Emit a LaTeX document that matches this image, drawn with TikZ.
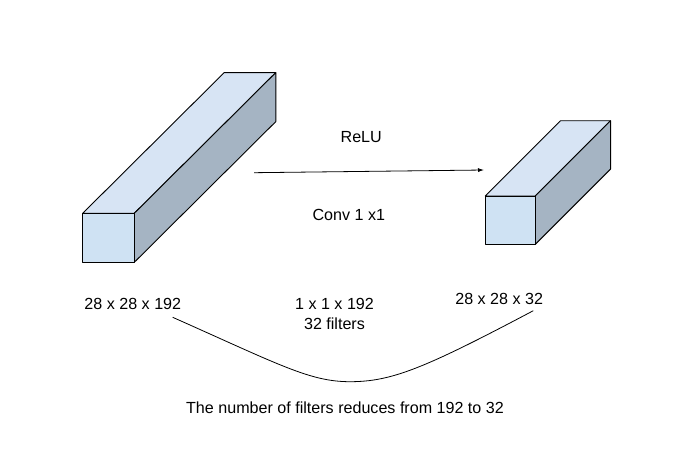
\documentclass[tikz,border=0pt]{standalone}
\usepackage{fontspec}
\setmainfont{Liberation Sans}
\usetikzlibrary{positioning,arrows.meta}
\definecolor{frontblue}{HTML}{CFE2F3}
\definecolor{topblue}{HTML}{D7E4F4}
\definecolor{sideblue}{HTML}{A5B4C3}
\begin{document}
\begin{tikzpicture}[
  x=1pt,y=-1pt,
  font=\fontsize{16.1}{19}\selectfont,
  face/.style={draw,line width=0.9pt,line join=round},
  frontface/.style={face,fill=frontblue},
  topface/.style={face,fill=topblue},
  sideface/.style={face,fill=sideblue},
  lbl/.style={anchor=base,inner sep=0pt},
  ar/.style={-{Latex[length=6pt,width=4pt]},line width=0.8pt},
  brace/.style={line width=0.8pt}
]
\useasboundingbox (0,0) rectangle (700,452);
% input volume
\coordinate (inA) at (82.7,213.3);
\coordinate (inB) at (134.3,213.3);
\coordinate (inC) at (134.3,262.3);
\draw[topface] (inA) -- ++(141.5,-140.7) -- ++(51.6,0) -- (inB) -- cycle;
\draw[sideface] (inB) -- ++(141.5,-140.7) -- ++(0,49) -- (inC) -- cycle;
\draw[frontface] (inA) rectangle (inC);
% output volume
\coordinate (outA) at (485.3,196);
\coordinate (outB) at (535.3,196);
\coordinate (outC) at (535.3,244.3);
\draw[topface] (outA) -- ++(75.3,-75.3) -- ++(50,0) -- (outB) -- cycle;
\draw[sideface] (outB) -- ++(75.3,-75.3) -- ++(0,48.3) -- (outC) -- cycle;
\draw[frontface] (outA) rectangle (outC);

\node[lbl] (relu) at (361.2,142.7) {ReLU};
\node[lbl] (conv) at (348.8,220.7) {Conv 1 x1};
\node[lbl] (insize) at (132.8,309.3) {28 x 28 x 192};
\node[lbl] (kernel) at (334.5,309) {1 x 1 x 192};
\node[lbl] (nfilt) at (334.5,329.3) {32 filters};
\node[lbl] (outsize) at (499.2,304) {28 x 28 x 32};
\node[lbl] (note) at (345,413.3) {The number of filters reduces from 192 to 32};

\coordinate (arS) at (254,172.7);
\coordinate (arE) at (484,170);
\draw[ar] (arS) -- (arE);

\coordinate (brL) at (172.7,317.3);
\coordinate (brM) at (350,381.7);
\coordinate (brR) at (533.3,310.7);
\draw[brace] (brL) .. controls (280,365) and (310,381.7) .. (brM)
  .. controls (392,381.7) and (425,368) .. (brR);
\end{tikzpicture}
\end{document}
